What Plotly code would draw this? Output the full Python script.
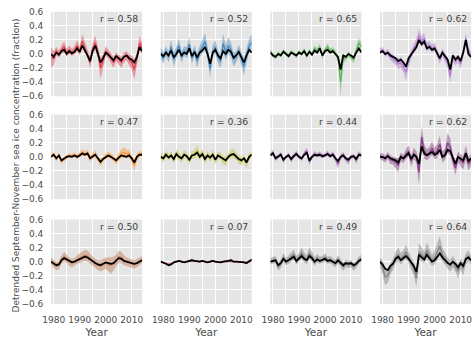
import plotly.graph_objects as go

years = list(range(1979, 2015))

r_labels = ["r = 0.58", "r = 0.52", "r = 0.65", "r = 0.62",
            "r = 0.47", "r = 0.36", "r = 0.44", "r = 0.62",
            "r = 0.50", "r = 0.07", "r = 0.49", "r = 0.64"]

colors = ["rgb(222,45,60)", "rgb(55,126,184)", "rgb(77,175,74)", "rgb(170,110,200)",
          "rgb(255,140,30)", "rgb(190,190,40)", "rgb(140,70,160)", "rgb(120,40,120)",
          "rgb(190,110,70)", "rgb(210,60,110)", "rgb(110,110,110)", "rgb(120,120,120)"]

# observed anomalies (black lines)
obs1 = [0.00, -0.04, 0.02, -0.01, 0.04, 0.06, 0.00, 0.04, 0.01, 0.03, 0.08, 0.03, 0.12, 0.06, -0.02, -0.10, 0.05, 0.12,
        0.00, -0.12, -0.06, 0.02, -0.01, -0.05, -0.09, -0.03, -0.06, -0.09, -0.04, -0.02, -0.06, -0.08, -0.12, -0.04, 0.10, 0.04]
obs2 = [0.00, -0.03, 0.02, -0.02, 0.05, -0.05, 0.00, 0.06, -0.02, 0.02, 0.00, 0.08, -0.03, 0.03, -0.05, 0.02, 0.05, 0.10,
        0.00, -0.14, 0.02, 0.06, -0.02, -0.06, 0.04, 0.00, 0.06, 0.03, -0.05, -0.02, 0.03, -0.04, -0.12, -0.02, 0.06, 0.02]
obs3 = [0.02, -0.02, -0.04, 0.00, -0.02, 0.03, 0.00, -0.03, 0.02, 0.00, -0.02, 0.02, 0.00, 0.04, -0.02, 0.03, -0.01, 0.05,
        0.02, 0.08, -0.02, 0.04, 0.06, 0.02, 0.04, 0.00, -0.04, -0.22, -0.02, -0.04, 0.00, -0.02, -0.05, 0.02, 0.08, 0.02]
obs4 = [0.02, 0.04, 0.00, 0.02, -0.02, -0.04, -0.06, -0.10, -0.08, -0.12, -0.18, -0.06, 0.00, 0.06, 0.10, 0.20, 0.14, 0.18,
        0.08, 0.10, 0.06, 0.08, 0.00, -0.06, 0.02, -0.04, -0.08, -0.22, -0.02, -0.08, -0.04, -0.10, 0.02, 0.20, 0.00, -0.04]
obs5 = [0.00, 0.03, -0.02, 0.02, -0.05, -0.02, 0.00, 0.01, 0.00, 0.02, 0.00, 0.02, 0.05, 0.03, 0.05, -0.02, 0.01, 0.03,
        -0.02, -0.07, -0.03, 0.00, 0.02, 0.00, -0.02, -0.05, -0.01, 0.02, 0.01, 0.00, 0.02, -0.02, -0.08, 0.00, 0.03, 0.03]
obs6 = [0.00, -0.02, 0.03, -0.01, 0.02, -0.03, 0.04, 0.00, -0.02, 0.03, 0.01, -0.04, 0.02, 0.03, 0.06, 0.00, 0.04, -0.03,
        0.02, -0.01, 0.03, -0.04, 0.02, 0.00, -0.03, -0.05, 0.00, 0.03, 0.04, 0.00, -0.03, -0.05, -0.02, -0.08, 0.00, 0.03]
obs7 = [0.02, 0.05, -0.02, 0.00, 0.03, -0.04, 0.00, 0.02, -0.03, 0.01, 0.04, 0.00, -0.02, 0.03, 0.06, -0.05, 0.00, 0.03,
        0.02, 0.03, 0.01, 0.02, 0.04, 0.01, 0.03, -0.02, -0.06, 0.00, 0.02, -0.02, -0.04, 0.00, 0.01, -0.03, 0.03, 0.02]
obs8 = [0.00, 0.00, -0.02, 0.01, -0.02, -0.03, -0.05, -0.08, 0.00, -0.02, 0.02, 0.05, -0.03, 0.03, 0.00, -0.10, 0.15, 0.05,
        0.02, 0.04, 0.07, 0.03, 0.05, 0.10, 0.00, 0.02, 0.10, 0.08, -0.02, -0.10, 0.00, -0.03, -0.05, 0.05, -0.06, -0.02]
obs9 = [0.00, -0.02, -0.05, -0.04, 0.02, 0.05, 0.03, 0.00, -0.01, 0.00, 0.02, 0.03, 0.05, 0.07, 0.06, 0.03, 0.00, -0.02,
        -0.04, -0.05, -0.03, -0.01, -0.02, -0.03, -0.02, 0.01, 0.05, 0.04, 0.01, 0.00, -0.01, -0.02, -0.03, -0.02, 0.00, 0.02]
obs10 = [0.00, -0.01, -0.03, -0.05, -0.04, -0.01, 0.00, 0.01, 0.00, -0.01, 0.00, 0.01, 0.02, 0.01, 0.00, 0.00, 0.01, 0.00,
         -0.01, 0.00, 0.01, 0.00, -0.01, -0.01, 0.00, 0.00, 0.01, 0.02, 0.00, 0.00, 0.00, -0.01, -0.01, -0.02, 0.00, 0.03]
obs11 = [0.00, 0.01, 0.02, -0.05, -0.02, 0.04, 0.00, 0.02, 0.05, 0.07, 0.01, 0.04, 0.08, 0.04, 0.02, 0.08, 0.05, 0.00,
         0.03, 0.01, 0.02, 0.04, 0.01, 0.02, 0.00, -0.02, 0.02, -0.01, -0.05, -0.02, -0.03, -0.02, -0.05, -0.03, 0.01, 0.03]
obs12 = [0.00, -0.04, -0.10, -0.12, -0.06, -0.03, 0.04, 0.07, 0.02, 0.05, 0.08, 0.04, -0.02, -0.06, -0.15, 0.10, 0.06, 0.03,
         0.10, 0.04, 0.00, 0.02, 0.08, 0.12, 0.06, 0.02, -0.02, -0.04, 0.00, -0.03, -0.08, -0.02, -0.06, 0.04, 0.06, 0.02]

# model ensemble means (coloured lines)
mod1 = [-0.05, -0.06, 0.04, 0.00, 0.06, 0.10, 0.02, 0.06, 0.02, 0.05, 0.12, 0.04, 0.18, 0.08, 0.00, -0.12, 0.08, 0.16,
        0.02, -0.20, -0.10, 0.04, 0.00, -0.06, -0.12, -0.04, -0.08, -0.12, -0.05, -0.02, -0.08, -0.12, -0.22, -0.06, 0.16, 0.08]
mod2 = [0.02, -0.06, 0.04, -0.04, 0.10, -0.08, 0.02, 0.12, -0.04, 0.04, 0.02, 0.14, -0.06, 0.05, -0.10, 0.04, 0.10, 0.18,
        0.02, -0.22, 0.04, 0.10, -0.04, -0.10, 0.15, 0.02, 0.12, 0.06, -0.08, -0.04, 0.05, -0.08, -0.18, -0.02, 0.12, 0.16]
mod3 = [0.04, -0.02, -0.04, 0.01, -0.02, 0.04, 0.01, -0.03, 0.03, 0.00, -0.03, 0.03, 0.00, 0.05, -0.03, 0.04, 0.00, 0.08,
        0.04, 0.10, -0.03, 0.06, 0.10, 0.04, 0.06, 0.01, -0.06, -0.40, -0.06, -0.06, 0.00, -0.04, -0.08, 0.05, 0.16, 0.10]
mod4 = [0.04, 0.06, 0.00, 0.02, -0.04, -0.06, -0.10, -0.14, -0.12, -0.18, -0.26, -0.10, 0.00, 0.08, 0.14, 0.26, 0.18, 0.22,
        0.10, 0.12, 0.08, 0.10, 0.00, -0.08, 0.02, -0.06, -0.12, -0.32, -0.04, -0.10, -0.06, -0.14, 0.02, 0.22, 0.04, -0.02]
mod5 = [0.01, 0.04, -0.03, 0.03, -0.06, -0.03, 0.00, 0.02, 0.01, 0.03, 0.00, 0.03, 0.06, 0.04, 0.06, -0.03, 0.02, 0.04,
        -0.03, -0.08, -0.04, 0.01, 0.03, 0.01, -0.02, -0.06, 0.00, 0.05, 0.06, 0.04, 0.05, -0.03, -0.12, 0.00, 0.04, 0.04]
mod6 = [0.01, -0.03, 0.04, 0.00, 0.03, -0.04, 0.05, 0.01, -0.03, 0.04, 0.02, -0.05, 0.02, 0.04, 0.08, 0.01, 0.05, -0.04,
        0.03, -0.02, 0.04, -0.05, 0.03, 0.01, -0.04, -0.06, 0.01, 0.04, 0.05, 0.01, -0.04, -0.06, -0.02, -0.09, 0.01, 0.04]
mod7 = [0.03, 0.06, -0.03, 0.00, 0.04, -0.05, 0.00, 0.03, -0.04, 0.01, 0.05, 0.00, -0.03, 0.04, 0.08, -0.07, 0.00, 0.04,
        0.02, 0.04, 0.01, 0.02, 0.05, 0.01, 0.04, -0.03, -0.10, 0.00, 0.03, -0.03, -0.06, 0.00, 0.01, -0.05, 0.04, 0.02]
mod8 = [0.01, 0.00, -0.03, 0.02, -0.04, -0.05, -0.08, -0.12, 0.00, -0.03, 0.04, 0.08, -0.06, 0.05, 0.00, -0.22, 0.28, 0.08,
        0.03, 0.06, 0.12, 0.05, 0.08, 0.18, 0.00, 0.04, 0.20, 0.14, -0.04, -0.16, 0.00, -0.05, -0.08, 0.06, -0.10, -0.04]
mod9 = [0.01, -0.03, -0.06, -0.05, 0.03, 0.07, 0.04, 0.00, -0.02, 0.00, 0.03, 0.05, 0.07, 0.09, 0.08, 0.04, 0.00, -0.03,
        -0.05, -0.06, -0.04, -0.02, -0.04, -0.05, -0.03, 0.02, 0.07, 0.06, 0.02, 0.00, -0.02, -0.03, -0.04, -0.02, 0.00, 0.03]
mod10 = [0.00, -0.01, -0.03, -0.04, -0.03, -0.01, 0.00, 0.01, 0.00, -0.01, 0.00, 0.01, 0.02, 0.01, 0.00, 0.00, 0.01, 0.00,
         -0.01, 0.00, 0.01, 0.00, -0.01, -0.01, 0.00, 0.00, 0.01, 0.02, 0.00, 0.00, 0.00, -0.01, -0.01, -0.02, 0.00, 0.02]
mod11 = [0.00, 0.02, 0.03, -0.07, -0.03, 0.06, 0.00, 0.03, 0.07, 0.10, 0.02, 0.06, 0.12, 0.06, 0.03, 0.12, 0.07, 0.00,
         0.05, 0.02, 0.03, 0.06, 0.02, 0.03, 0.00, -0.03, 0.03, -0.02, -0.07, -0.03, -0.04, -0.03, -0.07, -0.04, 0.02, 0.05]
mod12 = [0.00, -0.08, -0.22, -0.20, -0.10, -0.04, 0.06, 0.10, 0.04, 0.08, 0.14, 0.06, -0.02, -0.10, -0.24, 0.14, 0.10, 0.06,
         0.16, 0.08, 0.02, 0.06, 0.14, 0.22, 0.10, 0.04, -0.02, -0.06, 0.00, -0.06, -0.14, -0.04, -0.10, 0.04, 0.08, 0.02]

# ensemble half-spread around each mean
spr1 = [0.15, 0.10, 0.06, 0.05, 0.06, 0.08, 0.05, 0.06, 0.05, 0.06, 0.08, 0.06, 0.10, 0.08, 0.06, 0.08, 0.08, 0.10,
        0.08, 0.15, 0.10, 0.07, 0.06, 0.07, 0.08, 0.06, 0.07, 0.08, 0.07, 0.06, 0.08, 0.10, 0.14, 0.08, 0.10, 0.08]
spr2 = [0.08, 0.08, 0.07, 0.08, 0.10, 0.10, 0.08, 0.10, 0.08, 0.07, 0.08, 0.10, 0.08, 0.08, 0.10, 0.08, 0.10, 0.12,
        0.10, 0.12, 0.08, 0.10, 0.08, 0.10, 0.14, 0.10, 0.12, 0.10, 0.10, 0.08, 0.08, 0.10, 0.12, 0.10, 0.10, 0.12]
spr3 = [0.03, 0.03, 0.03, 0.03, 0.03, 0.03, 0.03, 0.03, 0.03, 0.03, 0.03, 0.03, 0.03, 0.04, 0.03, 0.03, 0.03, 0.04,
        0.04, 0.05, 0.04, 0.04, 0.05, 0.04, 0.04, 0.04, 0.05, 0.20, 0.06, 0.04, 0.04, 0.04, 0.05, 0.05, 0.07, 0.06]
spr4 = [0.04, 0.04, 0.04, 0.05, 0.05, 0.06, 0.06, 0.08, 0.08, 0.08, 0.12, 0.08, 0.06, 0.06, 0.08, 0.10, 0.08, 0.08,
        0.06, 0.06, 0.06, 0.06, 0.06, 0.06, 0.06, 0.06, 0.08, 0.10, 0.06, 0.06, 0.06, 0.08, 0.06, 0.08, 0.06, 0.06]
spr5 = [0.03, 0.03, 0.03, 0.03, 0.04, 0.03, 0.03, 0.03, 0.03, 0.03, 0.03, 0.04, 0.05, 0.04, 0.05, 0.04, 0.04, 0.05,
        0.04, 0.05, 0.04, 0.04, 0.04, 0.04, 0.04, 0.05, 0.05, 0.06, 0.08, 0.06, 0.06, 0.05, 0.09, 0.05, 0.04, 0.04]
spr6 = [0.04, 0.05, 0.05, 0.04, 0.05, 0.05, 0.06, 0.05, 0.05, 0.06, 0.05, 0.06, 0.05, 0.06, 0.08, 0.05, 0.06, 0.06,
        0.05, 0.05, 0.06, 0.06, 0.05, 0.05, 0.06, 0.07, 0.05, 0.06, 0.07, 0.05, 0.06, 0.06, 0.05, 0.07, 0.05, 0.05]
spr7 = [0.03, 0.04, 0.03, 0.03, 0.03, 0.04, 0.03, 0.03, 0.04, 0.03, 0.04, 0.03, 0.03, 0.04, 0.05, 0.05, 0.03, 0.04,
        0.03, 0.04, 0.03, 0.03, 0.04, 0.03, 0.04, 0.04, 0.06, 0.04, 0.04, 0.04, 0.05, 0.03, 0.03, 0.05, 0.04, 0.03]
spr8 = [0.04, 0.05, 0.05, 0.05, 0.06, 0.06, 0.08, 0.10, 0.06, 0.06, 0.07, 0.08, 0.08, 0.08, 0.08, 0.18, 0.16, 0.10,
        0.08, 0.08, 0.10, 0.08, 0.10, 0.12, 0.08, 0.08, 0.14, 0.12, 0.08, 0.10, 0.08, 0.08, 0.10, 0.10, 0.10, 0.08]
spr9 = [0.05, 0.06, 0.06, 0.06, 0.06, 0.07, 0.06, 0.06, 0.06, 0.05, 0.06, 0.07, 0.08, 0.08, 0.08, 0.07, 0.07, 0.07,
        0.07, 0.08, 0.08, 0.08, 0.10, 0.12, 0.10, 0.08, 0.09, 0.08, 0.07, 0.06, 0.06, 0.06, 0.06, 0.06, 0.05, 0.05]
spr10 = [0.01, 0.01, 0.01, 0.02, 0.02, 0.01, 0.01, 0.01, 0.01, 0.01, 0.01, 0.01, 0.02, 0.01, 0.01, 0.01, 0.01, 0.01,
         0.01, 0.01, 0.01, 0.01, 0.01, 0.01, 0.01, 0.01, 0.01, 0.02, 0.01, 0.01, 0.01, 0.01, 0.01, 0.02, 0.01, 0.02]
spr11 = [0.04, 0.05, 0.05, 0.06, 0.06, 0.06, 0.05, 0.06, 0.07, 0.07, 0.06, 0.06, 0.08, 0.07, 0.06, 0.08, 0.07, 0.06,
         0.06, 0.05, 0.05, 0.06, 0.05, 0.05, 0.05, 0.05, 0.06, 0.05, 0.06, 0.05, 0.05, 0.05, 0.06, 0.05, 0.05, 0.05]
spr12 = [0.06, 0.10, 0.12, 0.10, 0.08, 0.08, 0.08, 0.10, 0.08, 0.08, 0.10, 0.08, 0.08, 0.10, 0.12, 0.12, 0.10, 0.08,
         0.12, 0.10, 0.08, 0.10, 0.12, 0.14, 0.10, 0.08, 0.08, 0.08, 0.08, 0.08, 0.10, 0.08, 0.10, 0.08, 0.08, 0.06]

observed = [obs1, obs2, obs3, obs4, obs5, obs6, obs7, obs8, obs9, obs10, obs11, obs12]
modelled = [mod1, mod2, mod3, mod4, mod5, mod6, mod7, mod8, mod9, mod10, mod11, mod12]
spreads = [spr1, spr2, spr3, spr4, spr5, spr6, spr7, spr8, spr9, spr10, spr11, spr12]

x_ticks = [1980, 1985, 1990, 1995, 2000, 2005, 2010]
x_ticktext = ["1980", "", "1990", "", "2000", "", "2010"]
y_ticks = [-0.6, -0.4, -0.2, 0.0, 0.2, 0.4, 0.6]
y_ticktext = ["\u22120.6", "\u22120.4", "\u22120.2", "0.0", "0.2", "0.4", "0.6"]

W, H = 474, 338
col_px = [(43, 136), (155, 248), (267, 360), (379, 472)]
row_px = [(7, 94), (113, 200), (221, 308)]

FONT = "DejaVu Sans"
TXT = "#4a4a4a"
BG = "#e5e5e5"
TICK_SIZE = 9


def rgba(c, a):
    return c.replace("rgb(", "rgba(").replace(")", f",{a})")


fig = go.Figure()
layout = dict(width=W, height=H, margin=dict(l=0, r=0, t=0, b=0),
              paper_bgcolor="white", plot_bgcolor=BG, showlegend=False,
              font=dict(family=FONT, size=TICK_SIZE, color=TXT))
annotations = []

for i in range(12):
    row, col = divmod(i, 4)
    n = i + 1
    xa = "x" if n == 1 else f"x{n}"
    ya = "y" if n == 1 else f"y{n}"
    c = colors[i]
    upper = [m + s for m, s in zip(modelled[i], spreads[i])]
    lower = [m - s for m, s in zip(modelled[i], spreads[i])]
    fig.add_trace(go.Scatter(x=years, y=upper, mode="lines", line=dict(width=0),
                             xaxis=xa, yaxis=ya, hoverinfo="skip"))
    fig.add_trace(go.Scatter(x=years, y=lower, mode="lines", line=dict(width=0),
                             fill="tonexty", fillcolor=rgba(c, 0.42),
                             xaxis=xa, yaxis=ya, hoverinfo="skip"))
    fig.add_trace(go.Scatter(x=years, y=modelled[i], mode="lines",
                             line=dict(color=rgba(c, 0.8), width=1.3),
                             xaxis=xa, yaxis=ya))
    fig.add_trace(go.Scatter(x=years, y=observed[i], mode="lines",
                             line=dict(color="black", width=1.8),
                             xaxis=xa, yaxis=ya))

    x0, x1 = col_px[col]
    y0, y1 = row_px[row]
    xkey = "xaxis" if n == 1 else f"xaxis{n}"
    ykey = "yaxis" if n == 1 else f"yaxis{n}"
    layout[xkey] = dict(
        domain=[x0 / W, x1 / W], anchor=ya, range=[1979, 2014],
        tickvals=x_ticks, ticktext=x_ticktext, showticklabels=(row == 2),
        tickangle=0,
        showgrid=True, gridcolor="white", gridwidth=1, zeroline=False,
        showline=False, ticks="outside", ticklen=7, tickcolor="rgba(0,0,0,0)",
        tickfont=dict(family=FONT, size=TICK_SIZE, color=TXT),
        title=dict(text="Year" if row == 2 else "", standoff=6,
                   font=dict(family=FONT, size=10.5, color=TXT)),
    )
    layout[ykey] = dict(
        domain=[1 - y1 / H, 1 - y0 / H], anchor=xa, range=[-0.6, 0.6],
        tickvals=y_ticks, ticktext=y_ticktext, showticklabels=(col == 0),
        showgrid=True, gridcolor="white", gridwidth=1, zeroline=False,
        showline=False, ticks="outside", ticklen=5, tickcolor="rgba(0,0,0,0)",
        tickfont=dict(family=FONT, size=TICK_SIZE, color=TXT),
    )
    annotations.append(dict(
        text=r_labels[i], xref="paper", yref="paper",
        x=(x1 - 2) / W, y=1 - (y0 + 7) / H, xanchor="right", yanchor="middle",
        showarrow=False, font=dict(family=FONT, size=9.3, color="#404040"),
    ))

annotations.append(dict(
    text="Detrended September-November sea ice concentration (fraction)",
    xref="paper", yref="paper", x=7.5 / W, y=1 - 165 / H, textangle=-90,
    xanchor="center", yanchor="middle", showarrow=False,
    font=dict(family=FONT, size=9, color=TXT),
))
layout["annotations"] = annotations

fig.update_layout(**layout)
fig.write_html("out.html")
